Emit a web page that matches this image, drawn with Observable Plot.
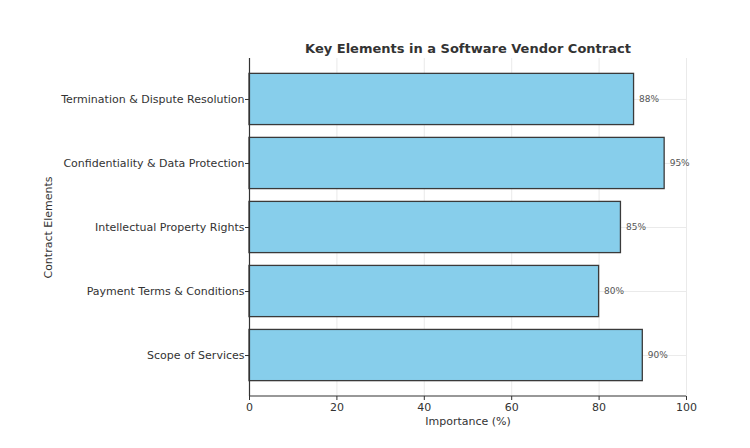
<!DOCTYPE html>
<html>
<head>
<meta charset="utf-8">
<script src="https://cdn.jsdelivr.net/npm/d3@7"></script>
<script src="https://cdn.jsdelivr.net/npm/@observablehq/plot@0.6"></script>
<style>
  html, body { margin: 0; padding: 0; background: #fff; }
  svg { display: block; }
</style>
</head>
<body>
<div id="chart"></div>
<script>
const categories = [
  "Termination & Dispute Resolution",
  "Confidentiality & Data Protection",
  "Intellectual Property Rights",
  "Payment Terms & Conditions",
  "Scope of Services"
];
const importance = [88, 95, 85, 80, 90];
const xTicks = [0, 20, 40, 60, 80, 100];
const title = "Key Elements in a Software Vendor Contract";
const xLabel = "Importance (%)";
const yLabel = "Contract Elements";

const data = categories.map((c, i) => ({category: c, value: importance[i]}));

const font = "DejaVu Sans, sans-serif";

const chart = Plot.plot({
  width: 750,
  height: 448,
  marginLeft: 249,
  marginRight: 64,
  marginTop: 58,
  marginBottom: 52,
  style: {fontFamily: font, fontSize: "11px", color: "#333", background: "#fff"},
  x: {domain: [0, 100], ticks: xTicks},
  y: {domain: categories, paddingInner: 0.2, paddingOuter: 0.24, round: false},
  marks: [
    Plot.gridX(xTicks, {stroke: "#e4e4e4", strokeOpacity: 1, strokeWidth: 0.8}),
    Plot.gridY(categories, {stroke: "#e4e4e4", strokeOpacity: 1, strokeWidth: 0.8}),
    Plot.barX(data, {x: "value", y: "category", fill: "#87CEEB", stroke: "#3a3a3a", strokeWidth: 1.3}),
    Plot.text(data, {x: "value", y: "category", text: d => d.value + "%", textAnchor: "start", dx: 5, fontSize: 9, fill: "#555"}),
    Plot.axisX({ticks: xTicks, tickSize: 4, tickPadding: 3, stroke: "#333", label: xLabel, labelAnchor: "center", labelArrow: "none", labelOffset: 28, fontSize: 11, color: "#333"}),
    Plot.axisY({tickSize: 4, tickPadding: 1, label: yLabel, labelAnchor: "center", labelArrow: "none", labelOffset: 205, fontSize: 11}),
    Plot.ruleX([0], {stroke: "#333", strokeWidth: 1.2}),
    Plot.text([title], {frameAnchor: "top", dy: -15, fontWeight: "bold", fontSize: 13, fill: "#333"})
  ]
});

document.getElementById("chart").appendChild(chart);

// bottom spine, placed with the plot's own scales
const xs = chart.scale("x");
const ys = chart.scale("y");
const yBottom = 448 - 52;
d3.select(chart).append("line")
  .attr("x1", xs.apply(0)).attr("x2", xs.apply(100))
  .attr("y1", yBottom).attr("y2", yBottom)
  .attr("stroke", "#333").attr("stroke-width", 1.2);
</script>
</body>
</html>
